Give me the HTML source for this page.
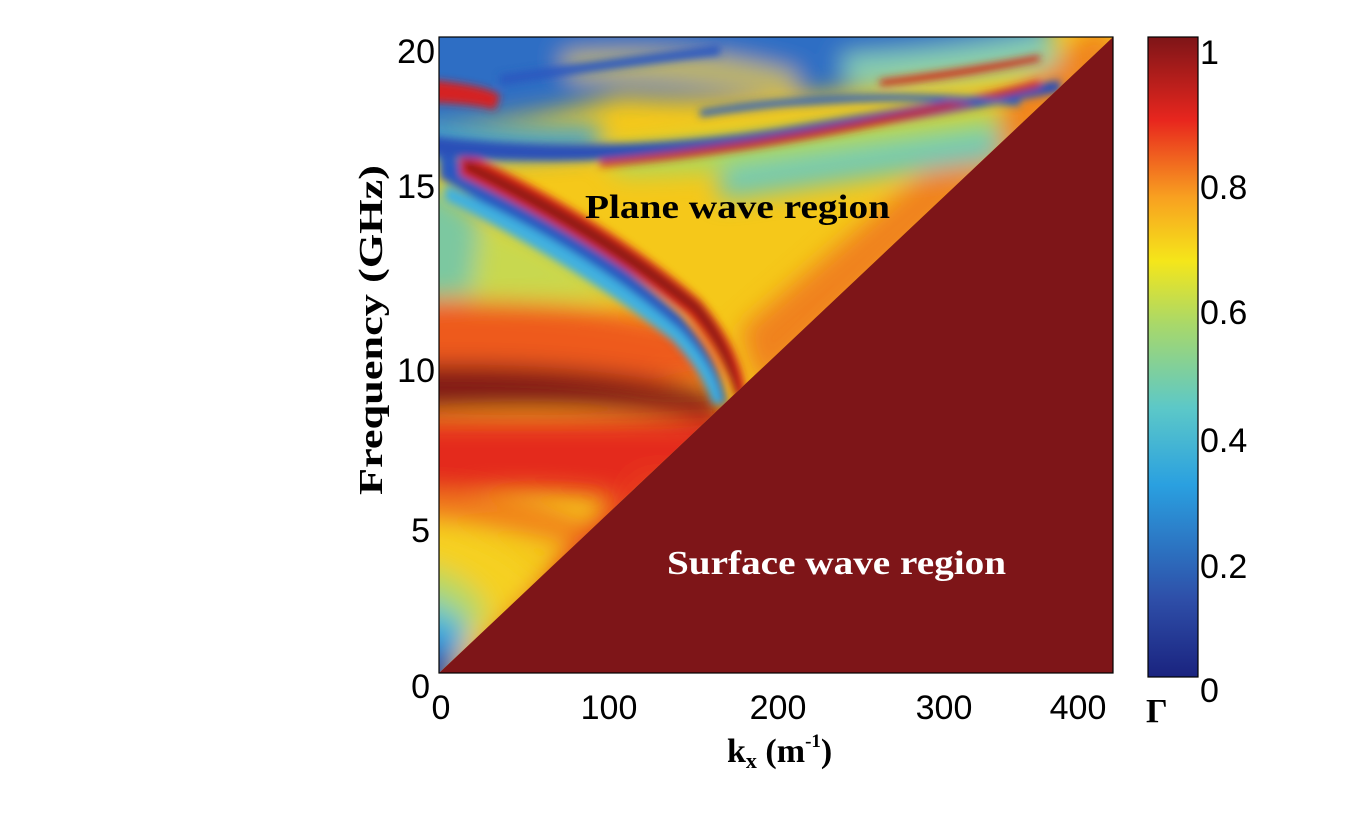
<!DOCTYPE html>
<html><head><style>
body{margin:0;background:#fff;width:1349px;height:816px;overflow:hidden}
text{font-family:"Liberation Sans",sans-serif;font-size:34px;fill:#000}
.s{font-family:"Liberation Serif",serif;font-weight:bold}
</style></head><body>
<svg width="1349" height="816" style="position:absolute;left:0;top:0">
<defs>
<clipPath id="tri"><polygon points="439,37 1113,37 439,673"/></clipPath>
<filter id="b" x="-20%" y="-20%" width="140%" height="140%"><feGaussianBlur stdDeviation="12"/></filter>
<filter id="b2" x="-10%" y="-10%" width="120%" height="120%"><feGaussianBlur stdDeviation="4"/></filter>
<linearGradient id="jet" x1="0" y1="1" x2="0" y2="0">
<stop offset="0" stop-color="#1a237f"/><stop offset="0.12" stop-color="#2e4ea8"/><stop offset="0.3" stop-color="#2aa0e0"/><stop offset="0.42" stop-color="#5cc8c8"/><stop offset="0.55" stop-color="#a8d86a"/><stop offset="0.65" stop-color="#f5e61a"/><stop offset="0.75" stop-color="#f8a020"/><stop offset="0.87" stop-color="#e8261e"/><stop offset="1" stop-color="#7e1518"/>
</linearGradient>
</defs>
<rect x="439" y="37" width="674" height="636" fill="#7e1518"/>
<g clip-path="url(#tri)">
<rect x="439" y="37" width="674" height="636" fill="#f5c81a"/>
<g filter="url(#b)">
<path d="M400,420 L760,420 L760,540 Q600,470 400,500Z" fill="#e42a1e"/>
<path d="M400,300 Q600,300 700,330 L730,380 L400,380Z" fill="#ee5a1c"/>
<path d="M400,365 Q600,360 720,395 L720,420 Q600,400 400,410Z" fill="#7e1518"/>
<path d="M400,490 Q520,490 600,530 L620,560 Q520,520 400,520Z" fill="#f07a1c"/>
<path d="M400,520 Q500,530 540,580 L520,673 L400,673Z" fill="#f5d020"/>
<path d="M640,470 L690,470 L500,673 L460,673Z" fill="#e83a1e"/>
<path d="M400,560 Q480,570 490,620 L400,650Z" fill="#b8d860"/>
<path d="M400,590 Q470,600 470,640 L400,673Z" fill="#70c8c0"/>
<path d="M400,615 L465,630 L455,673 L400,673Z" fill="#30a0e0"/>
<path d="M400,640 L455,655 L450,690 L400,690Z" fill="#2a4aa8"/>
<path d="M400,170 Q480,200 540,290 L400,300Z" fill="#7cc8a0"/>
<path d="M480,220 Q560,240 620,300 L470,300Z" fill="#c8d850"/>
<path d="M760,390 L1113,60 L1113,30 L1090,30 L740,330Z" fill="#f07a1c" opacity="0.9"/>
<path d="M400,0 L1050,0 L1050,60 Q800,110 620,95 Q520,125 400,125Z" fill="#2e6ec4"/>
<path d="M400,125 Q520,130 600,125 L600,150 Q520,160 400,160Z" fill="#3aa0d8"/>
<path d="M560,55 Q700,45 800,75 L790,95 Q680,78 570,78Z" fill="#f0d030" opacity="0.8"/>
<path d="M840,55 Q950,50 1050,30 L1060,65 Q950,85 850,85Z" fill="#88d0b0"/>
<path d="M600,150 Q800,130 1000,110 L1000,140 Q820,170 620,175Z" fill="#a8d860"/>
<path d="M720,170 Q850,150 1000,130 L1000,160 Q850,180 720,200Z" fill="#6cc8b8"/>
</g>
<g filter="url(#b2)">
<path d="M440,150 Q580,225 680,315 Q722,365 726,404 L712,404 Q702,370 666,330 Q565,250 440,178Z" fill="#2a58c0"/>
<path d="M445,185 Q585,248 680,330 Q718,370 722,404 L714,404 Q705,375 672,340 Q575,265 445,200Z" fill="#40b0e0"/>
<path d="M460,150 Q600,215 700,300 Q742,350 746,396 L736,398 Q725,355 688,315 Q590,238 460,175Z" fill="#d8201c"/>
<path d="M465,160 Q600,222 700,305 Q736,350 740,396 L737,397 Q725,352 693,312 Q595,235 465,170Z" fill="#8a1a18"/>
<path d="M400,132 Q600,160 800,125 Q950,100 1060,80 L1060,92 Q950,114 800,138 Q600,175 400,152Z" fill="#2a50b8"/>
<path d="M600,160 Q800,140 1040,80 L1040,87 Q800,150 600,167Z" fill="#d02418" opacity="0.9"/>
<path d="M400,78 Q480,82 500,95 L495,110 Q470,102 400,102Z" fill="#d52020"/>
<path d="M880,80 Q960,70 1040,55 L1040,61 Q960,78 880,86Z" fill="#d02418"/>
<path d="M700,110 Q850,85 1020,100 L1020,106 Q850,92 700,117Z" fill="#2a60c0"/>
<path d="M500,75 Q600,60 720,45 L720,55 Q600,70 500,85Z" fill="#2a58c0"/>
</g>
</g>
<rect x="439" y="37" width="674" height="636" fill="none" stroke="#000" stroke-width="1.2"/>
<rect x="1148" y="37" width="50" height="640" fill="url(#jet)" stroke="#000" stroke-width="1.2"/>

<text x="435" y="63" text-anchor="end">20</text>
<text x="435" y="198" text-anchor="end">15</text>
<text x="435" y="382" text-anchor="end">10</text>
<text x="430" y="542" text-anchor="end">5</text>
<text x="430" y="698" text-anchor="end">0</text>
<text x="441" y="719" text-anchor="middle">0</text>
<text x="609" y="719" text-anchor="middle">100</text>
<text x="778" y="719" text-anchor="middle">200</text>
<text x="944" y="719" text-anchor="middle">300</text>
<text x="1078" y="719" text-anchor="middle">400</text>
<text x="1200" y="64">1</text>
<text x="1200" y="199">0.8</text>
<text x="1200" y="324">0.6</text>
<text x="1200" y="452">0.4</text>
<text x="1200" y="578">0.2</text>
<text x="1200" y="702">0</text>
<text class="s" x="1146" y="722" font-size="32">Γ</text>
<text class="s" x="727" y="762" font-size="34">k<tspan font-size="22" dy="6">x</tspan><tspan dy="-6"> (m</tspan><tspan font-size="19" dy="-15">-1</tspan><tspan dy="15">)</tspan></text>
<text class="s" transform="translate(382,330) rotate(-90)" text-anchor="middle" font-size="32" textLength="330" lengthAdjust="spacingAndGlyphs">Frequency (GHz)</text>
<text class="s" x="585" y="218" font-size="30" textLength="305" lengthAdjust="spacingAndGlyphs">Plane wave region</text>
<text class="s" x="667" y="574" font-size="30" style="fill:#fff" textLength="339" lengthAdjust="spacingAndGlyphs">Surface wave region</text>
</svg>
</body></html>
